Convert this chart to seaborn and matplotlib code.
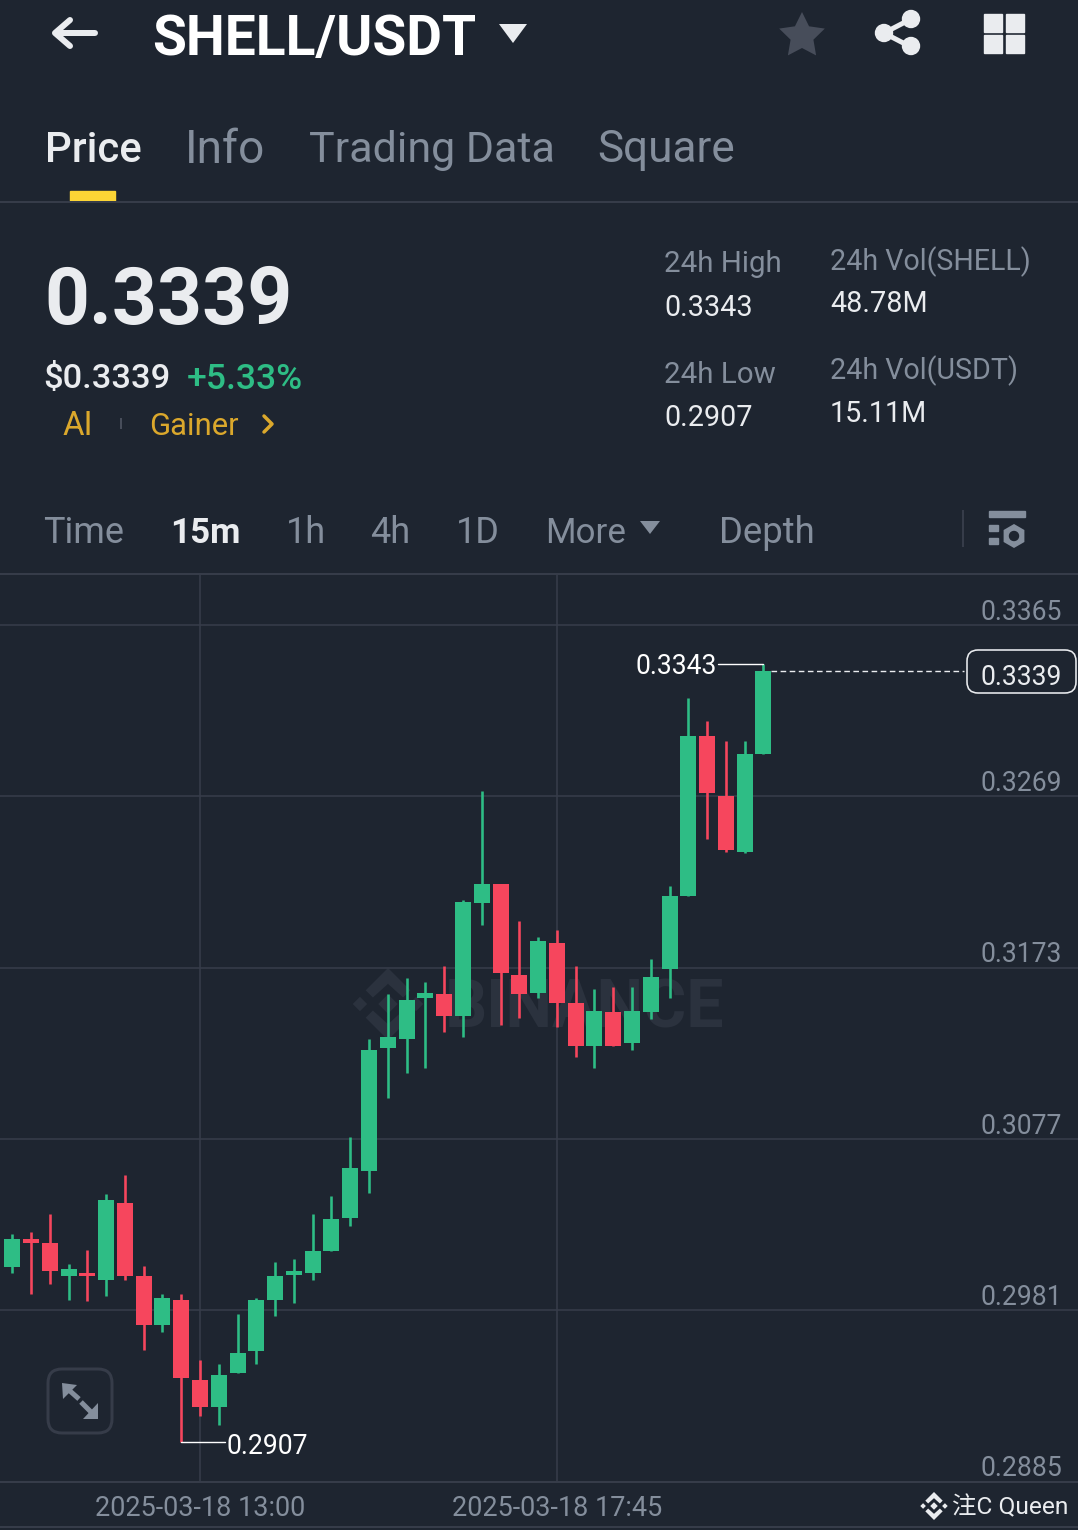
import matplotlib
matplotlib.use('Agg')
import matplotlib.pyplot as plt
from matplotlib.patches import Polygon, Rectangle, Circle, FancyBboxPatch
import numpy as np
import pandas as pd
import seaborn as sns

BG = '#1e2530'
GRID = '#363c49'
GRAY = '#848e9c'
WHITE = '#eaecef'
GREEN = '#2ebd85'
RED = '#f6465d'
GOLD = '#dba82c'
YELLOW = '#fcd535'

# 15m candles, first one is 10:15
opens = [.3023, .3005, .3021, .3019, .3000, .3002, .2998, .3041, .3000, .2973, .2987, .2942,
         .2927, .2946, .2958, .2987, .3001, .3002, .3014, .3033, .3059, .3128, .3133, .3156,
         .3158, .3146, .3209, .3220, .3169, .3159, .3187, .3153, .3129, .3148, .3131, .3148,
         .3172, .3213, .3303, .3269, .3238, .3293]
highs = [.3025, .3024, .3025, .3035, .3007, .3015, .3046, .3057, .3006, .2990, .2990, .2953,
         .2951, .2979, .2988, .3008, .3010, .3035, .3045, .3078, .3133, .3158, .3167, .3165,
         .3174, .3211, .3272, .3220, .3199, .3190, .3194, .3174, .3161, .3162, .3162, .3178,
         .3219, .3324, .3311, .3300, .3300, .3343]
lows = [.3001, .3002, .2990, .2996, .2987, .2986, .2989, .2998, .2959, .2969, .2907, .2922,
        .2917, .2946, .2951, .2978, .2985, .2998, .3014, .3028, .3047, .3100, .3114, .3117,
        .3137, .3134, .3197, .3141, .3145, .3156, .3140, .3123, .3117, .3129, .3127, .3144,
        .3156, .3213, .3245, .3238, .3237, .3293]
closes = [.3005, .3021, .3019, .3003, .3004, .3000, .3043, .3000, .2973, .2988, .2943, .2927,
          .2945, .2957, .2987, .3000, .3003, .3014, .3032, .3061, .3127, .3134, .3155, .3159,
          .3146, .3210, .3220, .3170, .3158, .3188, .3153, .3129, .3149, .3129, .3149, .3168,
          .3213, .3303, .3271, .3239, .3293, .3339]

price_ticks = [0.3365, 0.3269, 0.3173, 0.3077, 0.2981, 0.2885]
time_ticks = [11, 30]
time_labels = ['2025-03-18 13:00', '2025-03-18 17:45']
day_high = 0.3343
day_low = 0.2907
last_price = 0.3339

sns.set_theme(style='dark', rc={'figure.facecolor': BG, 'axes.facecolor': 'none'})
plt.rcParams['font.family'] = ['Roboto', 'Noto Sans CJK SC', 'DejaVu Sans']

fig = plt.figure(figsize=(10.78, 15.3), dpi=100, facecolor=BG)

# pixel overlay for the app chrome
ui = fig.add_axes([0, 0, 1, 1], zorder=0)
ui.set_xlim(0, 1078)
ui.set_ylim(1530, 0)
ui.axis('off')


def px(v):
    return v * 0.72


def label(x, y, s, size, color=GRAY, weight='normal', **kw):
    # matplotlib centres slightly high compared with the app text
    ui.text(x, y + 2, s, fontsize=px(size), color=color, fontweight=weight, va='center', ha=kw.pop('ha', 'left'), **kw)


def poly(pts, color, **kw):
    ui.add_patch(Polygon(pts, closed=True, facecolor=color, edgecolor='none', **kw))


def seg(xs, ys, color, w, cap='round'):
    ui.plot(xs, ys, color=color, lw=px(w), solid_capstyle=cap, solid_joinstyle='round')


def logo(cx, cy, r, color):
    # binance mark: diamond in the middle, side dots, chevrons top and bottom
    d = lambda x, y, q: poly([(x, y - q), (x + q, y), (x, y + q), (x - q, y)], color)
    d(cx, cy, r * 0.27)
    d(cx - r * 0.78, cy, r * 0.2)
    d(cx + r * 0.78, cy, r * 0.2)
    t = r * 0.2
    for s in (-1, 1):
        poly([(cx, cy + s * r), (cx + r * .62, cy + s * r * .38), (cx + r * .62 - t, cy + s * r * .38 - s * t),
              (cx, cy + s * r * .56), (cx - r * .62 + t, cy + s * r * .38 - s * t), (cx - r * .62, cy + s * r * .38)], color)


# header
seg([56, 95], [33, 33], WHITE, 6)
seg([70, 55, 70], [20, 33, 46], WHITE, 6)
label(152, 38, 'SHELL/USDT', 55, 'white', 'bold')
poly([(499, 24), (527, 24), (513, 43)], WHITE)
ang = np.linspace(np.pi / 2, np.pi / 2 + 2 * np.pi, 11)[:-1]
rad = np.array([24, 12] * 5)
poly(list(zip(802 + rad * np.cos(ang), 36 - rad * np.sin(ang))), '#474d5a')
seg([884, 911], [33, 19], WHITE, 5)
seg([884, 911], [33, 47], WHITE, 5)
for cx, cy in [(884, 33), (911, 19), (911, 46)]:
    ui.add_patch(Circle((cx, cy), 8.5, color=WHITE))
for x0, y0 in [(984, 14), (1006, 14), (984, 35), (1006, 35)]:
    ui.add_patch(Rectangle((x0, y0), 18, 18, color=WHITE))

# tabs
label(45, 148, 'Price', 42, WHITE, 'medium')
label(185, 148, 'Info', 46)
label(309, 148, 'Trading Data', 43)
label(597, 148, 'Square', 44)
ui.add_patch(Rectangle((70, 191), 45, 10, color=YELLOW))
seg([0, 1078], [202, 202], GRID, 2, 'butt')

# price block
label(44, 300, '0.3339', 78.5, WHITE, 'bold')
label(43, 377, '$0.3339', 34.5, WHITE, 'medium')
label(187, 377, '+5.33%', 35.5, GREEN, 'medium')
label(62, 424, 'AI', 33, GOLD)
seg([121, 121], [418, 429], '#474d5a', 2, 'butt')
label(149, 424, 'Gainer', 31, GOLD)
seg([264, 272, 264], [416, 424, 432], GOLD, 3.5)

label(664, 262, '24h High', 29.5)
label(664, 306, '0.3343', 28.7, WHITE)
label(664, 373, '24h Low', 29.5)
label(664, 416, '0.2907', 28.7, WHITE)
label(830, 260, '24h Vol(SHELL)', 28.6)
label(830, 302, '48.78M', 28.7, WHITE)
label(830, 369, '24h Vol(USDT)', 28.6)
label(830, 412, '15.11M', 28.7, WHITE)

# interval bar
label(43, 531, 'Time', 36)
label(170, 531, '15m', 35, WHITE, 'bold')
label(286, 531, '1h', 36)
label(370, 531, '4h', 36)
label(456, 531, '1D', 36)
label(545, 531, 'More', 35)
poly([(640, 521), (660, 521), (650, 534)], GRAY)
label(719, 531, 'Depth', 36.5)
seg([963, 963], [510, 547], '#363c49', 2, 'butt')
ui.add_patch(Rectangle((989, 511), 36, 6, color=GRAY))
ui.add_patch(Rectangle((989, 525), 9, 6, color=GRAY))
ui.add_patch(Rectangle((989, 538), 9, 6, color=GRAY))
ang = np.pi / 6 + np.arange(6) * np.pi / 3
poly(list(zip(1014 + 12 * np.cos(ang), 536 + 12 * np.sin(ang))), GRAY)
ui.add_patch(Circle((1014, 536), 4.5, color=BG))
seg([0, 1078], [574, 574], GRID, 2, 'butt')

# watermark
logo(388, 1004, 36, '#2b323e')
ui.text(445, 1009, 'BINANCE', fontsize=px(66), color='#2b323e', fontweight='bold', va='center', ha='left')

# bottom rules, expand button, signature
seg([0, 1078], [1527, 1527], GRID, 2, 'butt')
ui.add_patch(FancyBboxPatch((60, 1381), 40, 40, boxstyle='round,pad=12,rounding_size=14', facecolor='none', edgecolor=GRID, lw=px(3)))
poly([(62, 1383), (77, 1385), (63, 1399)], GRAY)
seg([70, 79], [1391, 1399], GRAY, 5, 'butt')
poly([(98, 1419), (83, 1419), (98, 1403)], GRAY)
seg([81, 91], [1402, 1412], GRAY, 5, 'butt')
logo(934, 1506, 14, WHITE)
label(952, 1506, '注C Queen', 24.5, WHITE)

# last price tag
ui.add_patch(FancyBboxPatch((967, 650), 109, 43, boxstyle='round,pad=0,rounding_size=11', facecolor=BG, edgecolor=WHITE, lw=px(1.6)))
label(981, 675, '0.3339', 26.5, WHITE)

# chart
ax = fig.add_axes([0, 48 / 1530, 1, 908 / 1530], zorder=1)
ax.set_facecolor('none')

n = len(opens)
df = pd.DataFrame({'i': range(n), 'open': opens, 'high': highs, 'low': lows, 'close': closes})
df['dir'] = np.where(df['close'] >= df['open'], 'up', 'down')
candle_colors = {'up': GREEN, 'down': RED}

wicks = df.melt(id_vars=['i', 'dir'], value_vars=['high', 'low'], value_name='price')
bodies = df.melt(id_vars=['i', 'dir'], value_vars=['open', 'close'], value_name='price')

sns.lineplot(data=wicks, x='i', y='price', hue='dir', units='i', estimator=None, palette=candle_colors,
             legend=False, lw=px(2.6), solid_capstyle='butt', ax=ax)
sns.lineplot(data=bodies, x='i', y='price', hue='dir', units='i', estimator=None, palette=candle_colors,
             legend=False, lw=px(16), solid_capstyle='butt', ax=ax)

ax.set_xlim(0.35, 57.75)
ax.set_ylim(0.28848, 0.33936)
ax.set_xlabel('')
ax.set_ylabel('')
ax.set_xticks(time_ticks, time_labels)
ax.set_yticks(price_ticks, [])
ax.tick_params(axis='both', length=0)
ax.tick_params(axis='x', pad=px(13), labelsize=px(27), labelcolor=GRAY)
ax.grid(True, color=GRID, lw=px(1.6))
ax.set_axisbelow(True)
for s in ax.spines.values():
    s.set_visible(False)
ax.spines['bottom'].set_visible(True)
ax.spines['bottom'].set_color(GRID)
ax.spines['bottom'].set_linewidth(px(2))

for v in price_ticks:
    ax.annotate(f'{v:.4f}', (1, v), xycoords=ax.get_yaxis_transform(), xytext=(px(-97), px(13)),
                textcoords='offset points', fontsize=px(26.5), color=GRAY, ha='left', va='center')

# high and low callouts
hi_i = int(np.argmax(highs))
lo_i = int(np.argmin(lows))
ax.plot([hi_i, hi_i - 2.4], [day_high, day_high], color='white', lw=px(1.4))
ax.plot([lo_i, lo_i + 2.35], [day_low, day_low], color='white', lw=px(1.4))
ax.annotate(f'{day_high:.4f}', (hi_i, day_high), xytext=(px(-47), px(-2)), textcoords='offset points',
            fontsize=px(26.5), color='white', ha='right', va='center')
ax.annotate(f'{day_low:.4f}', (lo_i, day_low), xytext=(px(45), px(-4)), textcoords='offset points',
            fontsize=px(26.5), color='white', ha='left', va='center')

ax.plot([n - 1 + 0.4, 51.7], [last_price, last_price], color=WHITE, lw=px(1.4), dashes=(4, 2.5))

fig.savefig('out.png', dpi=100, facecolor=BG)
